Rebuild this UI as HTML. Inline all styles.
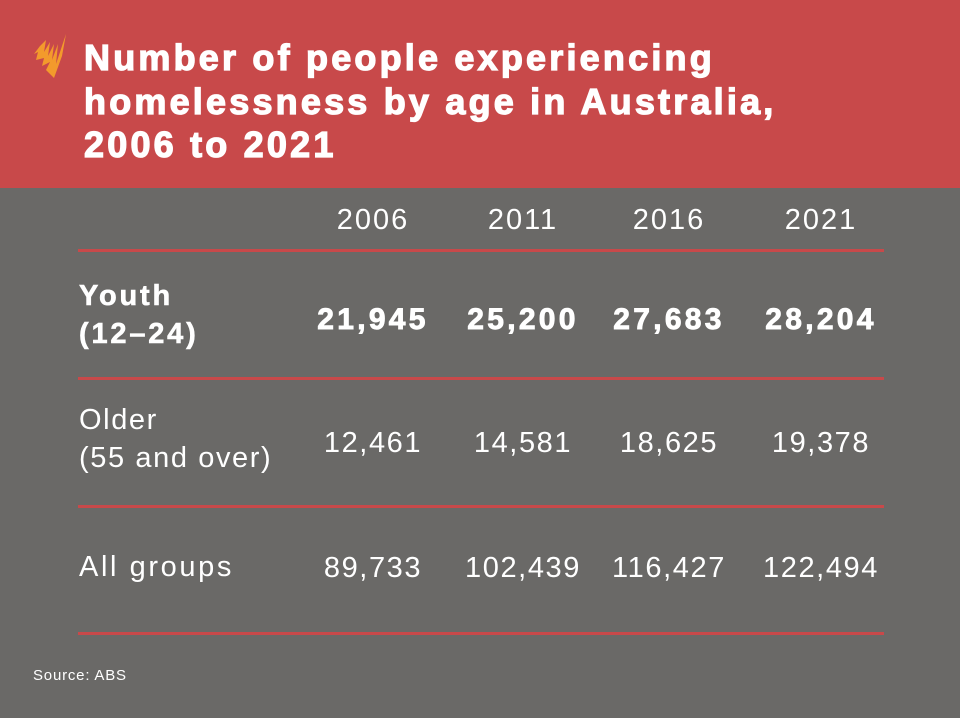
<!DOCTYPE html>
<html><head><style>
body{margin:0;width:960px;height:718px;overflow:hidden;background:#6a6967;font-family:"Liberation Sans",Arial,sans-serif;color:#fff;position:relative}
.hdr{position:absolute;left:0;top:0;width:960px;height:188px;background:#c8494a}
.t{position:absolute;left:84px;top:36px;font-size:36px;font-weight:bold;line-height:43.5px;letter-spacing:3.2px;-webkit-text-stroke:1.3px #fff}
.ln{position:absolute;left:78px;width:806px;height:3px;background:#c8494a}
.c{position:absolute;width:200px;text-align:center;font-size:29px;letter-spacing:1.6px}
.b{font-weight:bold;font-size:30px;letter-spacing:3.3px;-webkit-text-stroke:0.9px #fff}
.l{position:absolute;left:79px;font-size:29px;line-height:38px;letter-spacing:1.6px}
</style></head><body>
<div class="hdr"></div>
<svg style="position:absolute;left:32px;top:32px" width="36" height="52" viewBox="0 0 36 52">
<path d="M8 14 L14 8 L12 20 L18 10 L16 24 L22 12 L20 28 L26 12 L24 32 L34 2 L30 24 L22 46 L14 38 L18 30 L10 34 L12 26 L4 28 L6 20 L2 22 Z" fill="#f39a2c"/>
</svg>
<div class="t">Number of people experiencing<br>homelessness by age in Australia,<br>2006 to 2021</div>
<div class="c" style="left:273px;top:204px;letter-spacing:2px">2006</div>
<div class="c" style="left:423px;top:204px;letter-spacing:2px">2011</div>
<div class="c" style="left:569px;top:204px;letter-spacing:2px">2016</div>
<div class="c" style="left:721px;top:204px;letter-spacing:2px">2021</div>
<div class="ln" style="top:249px"></div>
<div class="l" style="top:277px;font-weight:bold;letter-spacing:2.8px;-webkit-text-stroke:0.6px #fff">Youth<br>(12–24)</div>
<div class="c b" style="left:273px;top:303px">21,945</div>
<div class="c b" style="left:423px;top:303px">25,200</div>
<div class="c b" style="left:569px;top:303px">27,683</div>
<div class="c b" style="left:721px;top:303px">28,204</div>
<div class="ln" style="top:377px"></div>
<div class="l" style="top:401px">Older<br>(55 and over)</div>
<div class="c" style="left:273px;top:427px">12,461</div>
<div class="c" style="left:423px;top:427px">14,581</div>
<div class="c" style="left:569px;top:427px">18,625</div>
<div class="c" style="left:721px;top:427px">19,378</div>
<div class="ln" style="top:505px"></div>
<div class="l" style="top:548px;letter-spacing:2.6px">All groups</div>
<div class="c" style="left:273px;top:552px">89,733</div>
<div class="c" style="left:423px;top:552px">102,439</div>
<div class="c" style="left:569px;top:552px">116,427</div>
<div class="c" style="left:721px;top:552px">122,494</div>
<div class="ln" style="top:632px"></div>
<div style="position:absolute;left:33px;top:667px;font-size:15px;letter-spacing:0.8px">Source: ABS</div>
</body></html>
